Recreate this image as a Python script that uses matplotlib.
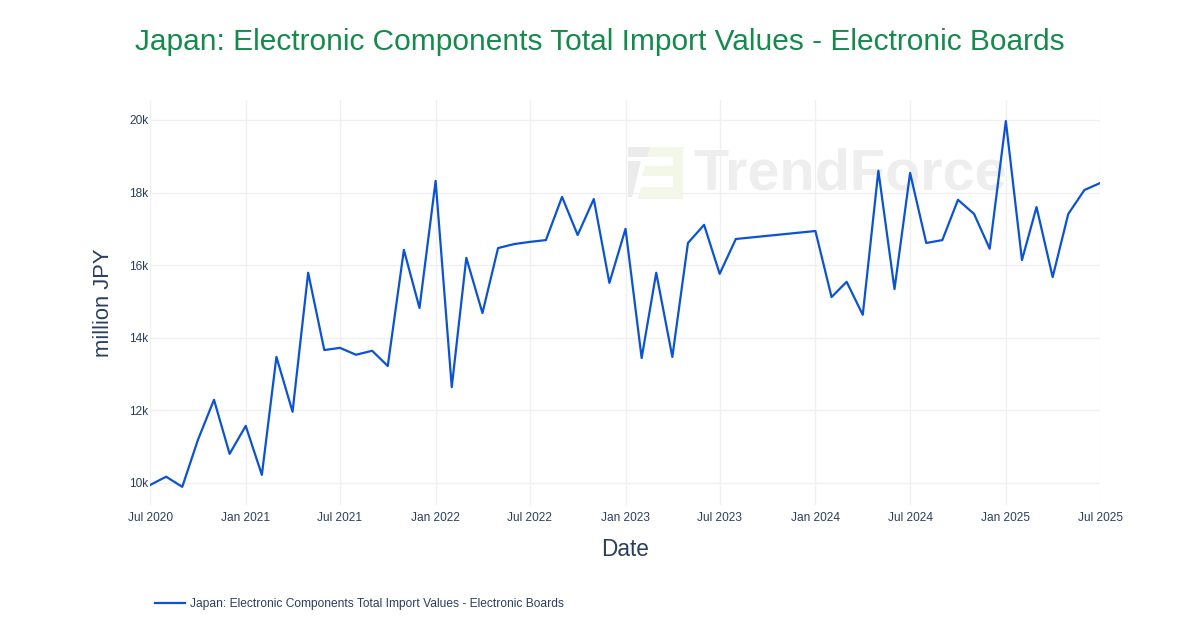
import pandas as pd
import matplotlib.pyplot as plt
from matplotlib.patches import Polygon
from matplotlib.ticker import FuncFormatter

# monthly import values (million JPY), Sep-Dec 2023 missing in the source
months = (list(pd.date_range("2020-07-01", "2023-08-01", freq="MS")) +
          list(pd.date_range("2024-01-01", "2025-07-01", freq="MS")))
values = [9940, 10170, 9890, 11180, 12290, 10800,
          11570, 10220, 13470, 11960, 15790, 13660,
          13720, 13530, 13640, 13220, 16420, 14820,
          18320, 12640, 16200, 14680, 16470, 16580,
          16640, 16690, 17880, 16830, 17820, 15510,
          17000, 13440, 15790, 13470, 16610, 17110,
          15760, 16720,
          16940, 15120, 15540, 14630, 18600, 15340,
          18540, 16610, 16690, 17800, 17410, 16450,
          19970, 16140, 17600, 15670, 17410, 18070,
          18260]

tick_dates = pd.date_range("2020-07-01", "2025-07-01", freq="6MS")
tick_labels = [d.strftime("%b %Y") for d in tick_dates]

series_name = "Japan: Electronic Components Total Import Values - Electronic Boards"

plt.rcParams['font.family'] = ['Liberation Sans', 'DejaVu Sans']
text_col = '#2a3f5f'
line_col = '#0a52d6'

fig = plt.figure(figsize=(12, 6.3), dpi=100)
ax = fig.add_axes([150/1200, 1 - 505/630, 950/1200, 405/630])


def px(x, y):
    # pixel position -> figure fraction
    return (x / 1200, 1 - y / 630)


# watermark (behind the line)
ax.text(*px(850, 174), "TrendForce", transform=fig.transFigure, fontsize=41.5,
        fontweight='bold', color='#eeeeee', ha='center', va='center', zorder=1)
logo_grey = [[(628, 147), (661, 147), (657, 157), (628, 157)],
             [(628, 161), (641, 161), (632, 197), (628, 197)]]
logo_green = [[(650, 147), (683, 147), (683, 157), (647, 157)],
              [(645, 166), (683, 166), (683, 176), (642, 176)],
              [(641, 187), (683, 187), (683, 199), (638, 199)],
              [(673, 147), (683, 147), (683, 199), (673, 199)]]
for pts in logo_grey:
    ax.add_patch(Polygon([px(*p) for p in pts], closed=True, transform=fig.transFigure,
                         facecolor='#ebebeb', edgecolor='none', zorder=1, clip_on=False))
for pts in logo_green:
    ax.add_patch(Polygon([px(*p) for p in pts], closed=True, transform=fig.transFigure,
                         facecolor='#f3f7e8', edgecolor='none', zorder=1, clip_on=False))

ax.plot(months, values, color=line_col, lw=1.6, zorder=3)

ax.set_xlim(tick_dates[0], tick_dates[-1])
ax.set_ylim(9390, 20550)
ax.set_xticks(tick_dates)
ax.set_xticklabels(tick_labels)
ax.set_yticks([10000, 12000, 14000, 16000, 18000, 20000])
ax.yaxis.set_major_formatter(FuncFormatter(lambda v, p: f"{int(v/1000)}k"))

ax.grid(True, color='#f0f0f0', lw=1, zorder=0)
ax.set_axisbelow(True)
for s in ax.spines.values():
    s.set_visible(False)
ax.tick_params(length=0, labelsize=8.6, labelcolor=text_col)
ax.tick_params(axis='x', pad=5)
ax.tick_params(axis='y', pad=1)

ax.set_xlabel("Date", fontsize=16.3, color=text_col, labelpad=10)
ax.set_ylabel("million JPY", fontsize=15.8, color=text_col, labelpad=11)

fig.suptitle("Japan: Electronic Components Total Import Values - Electronic Boards",
             x=0.5, y=0.956, fontsize=21.5, color='#158a4c')

# legend
fig.lines.append(plt.Line2D([155/1200, 185/1200], [1 - 603/630] * 2,
                            transform=fig.transFigure, color=line_col, lw=1.6))
fig.text(190/1200, 1 - 604/630, series_name, fontsize=8.65, color=text_col,
         va='center', ha='left')

fig.savefig("out.png", dpi=100)
